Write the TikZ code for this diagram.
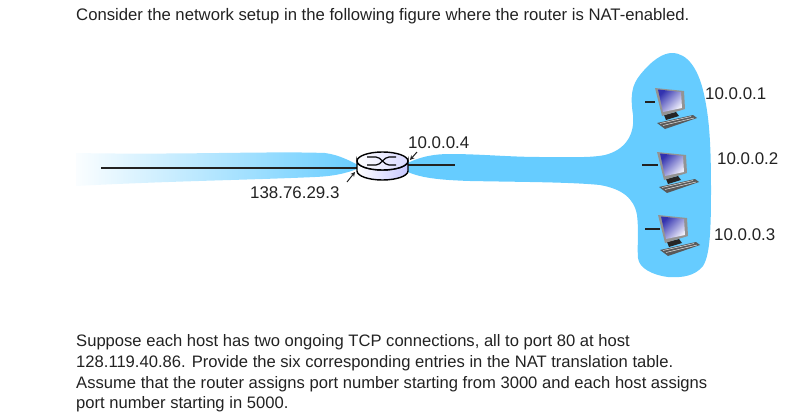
\documentclass[tikz,border=0pt]{standalone}
\usepackage{fontspec}
\setmainfont{Liberation Sans}
\usetikzlibrary{arrows.meta}
\definecolor{cloud}{HTML}{66CCFF}
\definecolor{ink}{HTML}{222222}
\definecolor{scrdark}{RGB}{50,50,175}
\definecolor{scrpale}{RGB}{240,240,252}
\tikzset{
  x=1pt,y=-1pt,
  bodytext/.style={anchor=base west,inner sep=0pt,text=ink,font=\fontsize{16.6}{20}\selectfont},
  titletext/.style={anchor=base west,inner sep=0pt,text=ink,font=\fontsize{16.7}{20}\selectfont},
  iplabel/.style={anchor=base west,inner sep=0pt,text=ink,font=\fontsize{16.9}{20}\selectfont},
  wire/.style={draw=ink,line width=1.8pt},
  pointer/.style={draw=ink,line width=1pt,-{Stealth[length=4.5pt,width=4.5pt]}},
  comp/.pic={
    \fill[gray!70!black] (2,35)--(38,27)--(42,30)--(10,41)--cycle;
    \draw[gray!20,line width=.5pt] (5,35.5)--(36,28.5) (8,37.5)--(39,30);
    \fill[black!85] (9,27)--(21,24)--(24,28)--(11,32)--cycle;
    \fill[gray!85] (0,0)--(29,3)--(30,21)--(7,28)--cycle;
    \shade[top color=scrdark,bottom color=scrpale,shading angle=45]
      (3,1.5)--(26,4)--(27,20)--(8,24)--cycle;
  }
}
\begin{document}
\begin{tikzpicture}
\useasboundingbox (0,0) rectangle (812,418);
% clouds
\shade[left color=cloud!3,right color=cloud]
  (76,153) .. controls (180,155) and (270,151) .. (325,153)
  .. controls (340,155) and (350,161) .. (362,167)
  .. controls (350,172) and (338,176) .. (315,177)
  .. controls (250,180) and (170,181) .. (76,186) -- cycle;
\fill[cloud]
  (404,165) .. controls (418,157) and (433,154) .. (450,154)
  .. controls (480,154) and (510,157) .. (540,157)
  .. controls (570,157) and (590,158) .. (605,155)
  .. controls (625,150) and (635,135) .. (633,115)
  .. controls (630,95) and (632,85) .. (640,75)
  .. controls (652,60) and (663,53) .. (672,53)
  .. controls (688,53) and (698,70) .. (703,90)
  .. controls (709,115) and (711,140) .. (711,190)
  .. controls (711,230) and (710,255) .. (703,266)
  .. controls (695,276) and (682,278) .. (668,277)
  .. controls (652,275) and (639,268) .. (638,258)
  .. controls (637,245) and (639,232) .. (637,215)
  .. controls (634,198) and (622,189) .. (600,185)
  .. controls (570,182) and (520,182) .. (470,181)
  .. controls (440,180) and (418,178) .. (404,170) -- cycle;
% named points
\coordinate (leftend) at (101,168);
\coordinate (rightend) at (455,165);
\coordinate (routerL) at (357,168);
\coordinate (routerR) at (408,165);
\coordinate (h1) at (655,88);
\coordinate (h2) at (657,152);
\coordinate (h3) at (658,215);
\coordinate (s1) at (645,102);
\coordinate (s2) at (642,165);
\coordinate (s3) at (645,229);
\coordinate (t1) at (655,102);
\coordinate (t2) at (658,165);
\coordinate (t3) at (660,229);
\coordinate (p1) at (347,182);
\coordinate (p1e) at (355,172);
\coordinate (p2) at (417,152);
\coordinate (p2e) at (410,160);
% wires
\draw[wire] (leftend) -- (routerL);
\draw[wire] (routerR) -- (rightend);
\draw[wire] (s1) -- (t1);
\draw[wire] (s2) -- (t2);
\draw[wire] (s3) -- (t3);
% router
\path[draw=black,line width=1.4pt,left color=white,right color=blue!22!white]
  (357,161) -- (357,171) arc[start angle=180,end angle=0,x radius=25.5,y radius=9] -- (408,161)
  arc[start angle=0,end angle=180,x radius=25.5,y radius=9] -- cycle;
\path[draw=black,line width=1.4pt,left color=white,right color=blue!15!white]
  (382.5,161) ellipse[x radius=25.5,y radius=9];
\draw[black,line width=1.2pt] (367,157) -- (376,157) .. controls (381,157) and (384,165) .. (389,165) -- (396,165);
\draw[black,line width=1.2pt] (367,165) -- (376,165) .. controls (381,165) and (384,157) .. (389,157) -- (396,157);
% computers
\pic at (h1) {comp};
\pic at (h2) {comp};
\pic at (h3) {comp};
% pointers
\draw[pointer] (p1) -- (p1e);
\draw[pointer] (p2) -- (p2e);
% labels
\node[iplabel] (ip0) at (250,198) {138.76.29.3};
\node[iplabel] (ip4) at (408,148) {10.0.0.4};
\node[iplabel] (ip1) at (705,99) {10.0.0.1};
\node[iplabel] (ip2) at (717,164) {10.0.0.2};
\node[iplabel] (ip3) at (714,240) {10.0.0.3};
% text
\node[titletext] (title) at (76,20) {Consider the network setup in the following figure where the router is NAT-enabled.};
\node[bodytext] (b1) at (76,346) {Suppose each host has two ongoing TCP connections, all to port 80 at host};
\node[bodytext] (b2) at (76,367) {128.119.40.86. Provide the six corresponding entries in the NAT translation table.};
\node[bodytext] (b3) at (76,388) {Assume that the router assigns port number starting from 3000 and each host assigns};
\node[bodytext] (b4) at (76,408) {port number starting in 5000.};
\end{tikzpicture}
\end{document}
